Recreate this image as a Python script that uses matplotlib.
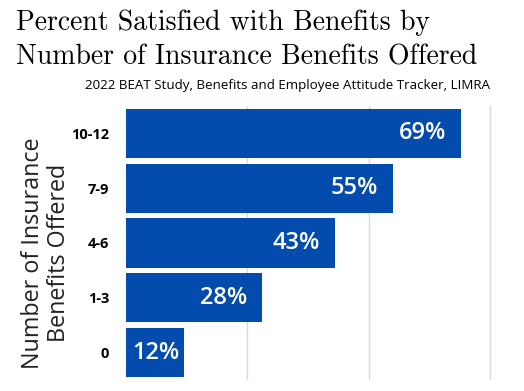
import matplotlib
matplotlib.use("Agg")
import matplotlib.pyplot as plt

categories = ["10-12", "7-9", "4-6", "1-3", "0"]
values = [69, 55, 43, 28, 12]
labels = ["69%", "55%", "43%", "28%", "12%"]
title = "Percent Satisfied with Benefits by\nNumber of Insurance Benefits Offered"
subtitle = "2022 BEAT Study, Benefits and Employee Attitude Tracker, LIMRA"
ylabel = "Number of Insurance\nBenefits Offered"

color = "#034BAC"

fig = plt.figure(figsize=(5.24, 3.91), dpi=100)
W, H = 524, 391
ax = fig.add_axes([126 / W, 1 - 380 / H, (495 - 126) / W, (380 - 106) / H])

ypos = list(range(len(categories)))
bars = ax.barh(ypos, values, height=0.895, color=color, zorder=3)
ax.set_xlim(0, 76)
ax.set_ylim(len(categories) - 0.5, -0.5)
ax.set_xticks([25, 50, 75])
ax.set_xticklabels([])
ax.tick_params(axis="x", length=0)
ax.tick_params(axis="y", length=0, pad=12)
ax.grid(axis="x", color="#d9d9d9", linewidth=1, zorder=0)
for s in ax.spines.values():
    s.set_visible(False)
ax.set_yticks(ypos)
ax.set_yticklabels(categories, fontfamily="Open Sans", fontweight="bold", fontsize=10.5)

for b, v, lab in zip(bars, values, labels):
    yc = b.get_y() + b.get_height() / 2
    if v < 20:
        ax.text(1.2, yc, lab, ha="left", va="center",
                color="white", fontsize=17, fontfamily="Open Sans", fontweight="semibold")
    else:
        ax.text(v - 3.0, yc, lab, ha="right", va="center",
                color="white", fontsize=17, fontfamily="Open Sans", fontweight="semibold")

fig.text(16 / W, 1 - 40 / H, title, fontfamily="cmr10", fontsize=20,
         ha="left", va="center", linespacing=1.45)
fig.text(490 / W, 1 - 85 / H, subtitle, fontfamily="Open Sans", fontsize=9.6,
         ha="right", va="center")
fig.text(46 / W, 1 - 253 / H, ylabel, fontfamily="Open Sans", fontsize=16.8,
         rotation=90, ha="center", va="center", linespacing=1.1, color="#222222")

fig.savefig("out.png", dpi=100)
